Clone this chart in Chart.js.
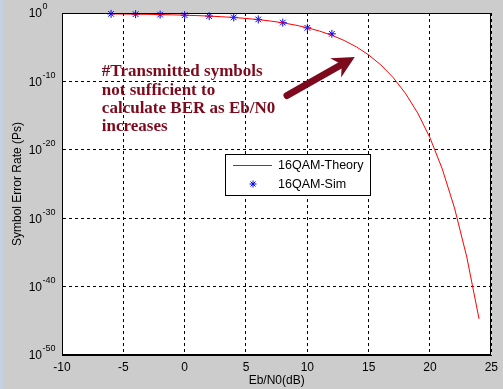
<!DOCTYPE html>
<html>
<head>
<meta charset="utf-8">
<script src="https://cdn.jsdelivr.net/npm/chart.js@4"></script>
<style>
  html, body { margin: 0; padding: 0; background: #cccccc; }
  #wrap { position: relative; width: 503px; height: 389px; }
  #strip { position: absolute; left: 0; top: 0; width: 3px; height: 389px; background: #c5d2e4; }
</style>
</head>
<body>
<div id="wrap">
<canvas id="c" width="503" height="389"></canvas>
<div id="strip"></div>
</div>
<script>
// ---- data ----
const snrTheory = [-6,-5,-4,-3,-2,-1,0,1,2,3,4,5,6,7,8,9,10,11,12,13,14,15,16,17,18,19,20,21,22,23,24];
const psTheory = [0.740,0.710,0.674,0.634,0.588,0.536,0.479,0.417,0.352,0.286,0.221,0.160,0.108,0.0667,0.0367,0.0175,0.00701,0.00226,5.55e-4,9.7e-5,1.11e-5,7.4e-7,2.49e-8,3.6e-10,1.8e-12,2.35e-15,5.6e-19,1.59e-23,3.1e-29,2.07e-36,1.94e-45];
const snrSim = [-6,-4,-2,0,2,4,6,8,10,12];
const psSim = [0.75,0.68,0.58,0.48,0.35,0.23,0.115,0.039,0.0068,0.0009];
const xTicks = [-10,-5,0,5,10,15,20,25];
const yTickExponents = [0,-10,-20,-30,-40,-50];
const seriesLabels = ['16QAM-Theory','16QAM-Sim'];
const xTitle = 'Eb/N0(dB)';
const yTitle = 'Symbol Error Rate (Ps)';
const noteLines = ['#Transmitted symbols','not sufficient to','calculate BER as Eb/N0','increases'];

const RED = '#ff0000', BLUE = '#0000ff', NOTE = '#7d0a1c';

function drawStar(ctx, x, y, r, color) {
  ctx.save();
  ctx.strokeStyle = color; ctx.lineWidth = 1;
  ctx.beginPath();
  ctx.moveTo(x - r, y); ctx.lineTo(x + r, y);
  ctx.moveTo(x, y - r); ctx.lineTo(x, y + r);
  const d = r * 0.7071;
  ctx.moveTo(x - d, y - d); ctx.lineTo(x + d, y + d);
  ctx.moveTo(x - d, y + d); ctx.lineTo(x + d, y - d);
  ctx.stroke();
  ctx.restore();
}

const overlay = {
  id: 'overlay',
  afterDraw(chart) {
    const ctx = chart.ctx, a = chart.chartArea;
    const xs = chart.scales.x, ys = chart.scales.y;
    // frame
    ctx.save();
    ctx.strokeStyle = '#000'; ctx.lineWidth = 1;
    ctx.strokeRect(Math.round(a.left) + 0.5, Math.round(a.top) + 0.5,
                   Math.round(a.right - a.left) - 1, Math.round(a.bottom - a.top) - 1);
    ctx.restore();

    // y tick labels: 10 with superscript exponent
    ctx.save();
    ctx.fillStyle = '#000';
    ctx.textBaseline = 'middle';
    ys.ticks.forEach(t => {
      const e = Math.round(Math.log10(t.value));
      const y = ys.getPixelForValue(t.value);
      ctx.font = '12px "Liberation Sans", Arial, sans-serif';
      ctx.textAlign = 'right';
      ctx.fillText('10', 42, y + 1);
      ctx.font = '9px "Liberation Sans", Arial, sans-serif';
      ctx.textAlign = 'left';
      ctx.fillText(String(e), 42.5, y - 6);
    });
    ctx.restore();

    // legend
    const lx = 225.5, ly = 154.5, lw = 145, lh = 41;
    ctx.save();
    ctx.fillStyle = '#fff';
    ctx.fillRect(lx, ly, lw, lh);
    ctx.strokeStyle = '#000'; ctx.lineWidth = 1;
    ctx.strokeRect(lx, ly, lw, lh);
    ctx.strokeStyle = RED;
    ctx.beginPath(); ctx.moveTo(233, 165.5); ctx.lineTo(272, 165.5); ctx.stroke();
    drawStar(ctx, 253, 184, 3.5, BLUE);
    ctx.fillStyle = '#000';
    ctx.font = '12.5px "Liberation Sans", Arial, sans-serif';
    ctx.textAlign = 'left'; ctx.textBaseline = 'middle';
    const ds = chart.data.datasets;
    ctx.fillText(ds[0].label, 278, 166);
    ctx.fillText(ds[1].label, 278, 184.5);
    ctx.restore();

    // annotation text
    ctx.save();
    ctx.fillStyle = NOTE;
    ctx.font = 'bold 17px "Liberation Serif", "DejaVu Serif", serif';
    ctx.textAlign = 'left'; ctx.textBaseline = 'middle';
    const tx = xs.getPixelForValue(-6.75);
    const ty = ys.getPixelForValue(Math.pow(10, -8.6));
    noteLines.forEach((s, i) => ctx.fillText(s, tx, ty + i * 18.3));
    ctx.restore();

    // arrow
    const p0 = { x: xs.getPixelForValue(8.2), y: ys.getPixelForValue(Math.pow(10, -12.2)) };
    const p1 = { x: xs.getPixelForValue(13.87), y: ys.getPixelForValue(Math.pow(10, -6.44)) };
    const dx = p1.x - p0.x, dy = p1.y - p0.y, L = Math.hypot(dx, dy);
    const ux = dx / L, uy = dy / L, nx = -uy, ny = ux;
    ctx.save();
    ctx.strokeStyle = NOTE; ctx.fillStyle = NOTE;
    ctx.lineWidth = 7; ctx.lineCap = 'round';
    ctx.beginPath();
    ctx.moveTo(p0.x + ux * 2, p0.y + uy * 2);
    ctx.lineTo(p1.x - ux * 14, p1.y - uy * 14);
    ctx.stroke();
    ctx.beginPath();
    ctx.moveTo(p1.x, p1.y);
    ctx.lineTo(p1.x - ux * 22 + nx * 11, p1.y - uy * 22 + ny * 11);
    ctx.lineTo(p1.x - ux * 15, p1.y - uy * 15);
    ctx.lineTo(p1.x - ux * 22 - nx * 11, p1.y - uy * 22 - ny * 11);
    ctx.closePath();
    ctx.fill();
    ctx.restore();
  }
};

new Chart(document.getElementById('c'), {
  type: 'scatter',
  data: {
    datasets: [
      {
        label: seriesLabels[0],
        data: snrTheory.map((x, i) => ({ x, y: psTheory[i] })),
        showLine: true, borderColor: RED, borderWidth: 1,
        pointRadius: 0, fill: false, tension: 0
      },
      {
        label: seriesLabels[1],
        data: snrSim.map((x, i) => ({ x, y: psSim[i] })),
        showLine: false, pointStyle: 'star', pointRadius: 4,
        borderColor: BLUE, backgroundColor: BLUE, pointBorderWidth: 1,
        clip: false
      }
    ]
  },
  options: {
    responsive: false, animation: false, devicePixelRatio: 1,
    layout: { padding: { left: 0, right: 8, top: 13, bottom: 0 } },
    plugins: { legend: { display: false }, tooltip: { enabled: false } },
    scales: {
      x: {
        type: 'linear', min: -10, max: 25,
        afterBuildTicks: s => { s.ticks = xTicks.map(v => ({ value: v })); },
        afterFit: s => { s.height = 34; },
        ticks: { color: '#000', padding: 5, maxRotation: 0,
                 font: { family: '"Liberation Sans", Arial, sans-serif', size: 12 } },
        grid: { color: '#000', lineWidth: 1, drawTicks: false },
        border: { display: true, color: '#000', width: 1, dash: [3, 3] },
        title: { display: true, text: xTitle, color: '#000', padding: { top: 0, bottom: 1 },
                 font: { family: '"Liberation Sans", Arial, sans-serif', size: 12 } }
      },
      y: {
        type: 'logarithmic', min: 1e-50, max: 1,
        afterBuildTicks: s => { s.ticks = yTickExponents.map(e => ({ value: Math.pow(10, e) })); },
        afterFit: s => { s.width = 62; },
        ticks: { display: false },
        grid: { color: '#000', lineWidth: 1, drawTicks: false },
        border: { display: true, color: '#000', width: 1, dash: [3, 3] },
        title: { display: true, text: yTitle, color: '#000', padding: { top: 10, bottom: 0 },
                 font: { family: '"Liberation Sans", Arial, sans-serif', size: 12 } }
      }
    }
  },
  plugins: [{
    id: 'bg',
    beforeDraw(chart) {
      const a = chart.chartArea, ctx = chart.ctx;
      ctx.save(); ctx.fillStyle = '#fff';
      ctx.fillRect(a.left, a.top, a.right - a.left, a.bottom - a.top);
      ctx.restore();
    }
  }, overlay]
});
</script>
</body>
</html>
